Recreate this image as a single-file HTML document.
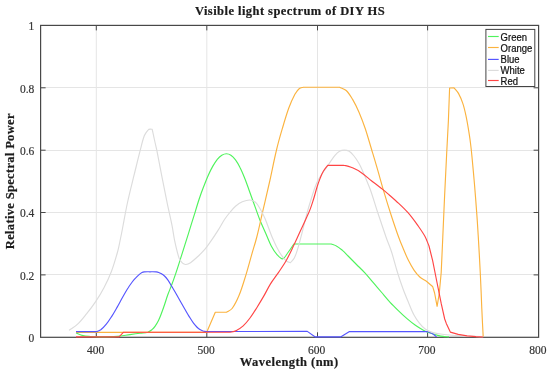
<!DOCTYPE html>
<html lang="en"><head><meta charset="utf-8"><title>Visible light spectrum of DIY HS</title>
<style>
html,body{margin:0;padding:0;background:#fff;}
body{width:550px;height:374px;overflow:hidden;}
svg{display:block;}
.t{font-family:"Liberation Serif",serif;font-size:11.5px;fill:#333333;stroke:#333333;stroke-width:0.18px;}
.b{font-family:"Liberation Serif",serif;font-weight:bold;font-size:12.5px;letter-spacing:0.45px;fill:#1c1c1c;stroke:#1c1c1c;stroke-width:0.2px;}
.l{font-family:"Liberation Sans",sans-serif;font-size:9.5px;fill:#111;stroke:#111;stroke-width:0.2px;}
.c{fill:none;stroke-width:1.15;stroke-linejoin:round;stroke-linecap:butt;}
</style></head><body>
<svg width="550" height="374" viewBox="0 0 550 374">
<rect width="550" height="374" fill="#fff"/>
<path d="M96.3 25.4V337.3M206.8 25.4V337.3M317.5 25.4V337.3M427.6 25.4V337.3M40.6 274.5H538.6M40.6 212.5H538.6M40.6 150.5H538.6M40.6 87.5H538.6" stroke="#e5e5e5" stroke-width="1" fill="none"/>
<path d="M96.3 337.3v-5M96.3 25.4v5M206.8 337.3v-5M206.8 25.4v5M317.5 337.3v-5M317.5 25.4v5M427.6 337.3v-5M427.6 25.4v5M40.6 274.9h5M538.6 274.9h-5M40.6 212.5h5M538.6 212.5h-5M40.6 150.2h5M538.6 150.2h-5M40.6 87.8h5M538.6 87.8h-5" stroke="#484848" stroke-width="1" fill="none"/>
<rect x="40.6" y="25.4" width="498.0" height="311.9" fill="none" stroke="#484848" stroke-width="1.2"/>
<path class="c" stroke="#4ff35c" d="M76.0 333.0C78.3 333.9 80.6 335.0 83.0 335.6C85.4 336.2 88.0 336.3 90.5 336.5C93.7 336.7 96.8 336.8 100.0 336.8C105.7 336.8 111.4 336.8 117.0 336.4C121.4 336.1 125.7 335.2 130.0 334.6C133.3 334.1 136.7 333.6 140.0 333.2C142.6 332.8 145.3 332.9 147.8 332.2C149.3 331.7 150.7 330.6 152.0 329.6C153.1 328.7 154.2 327.6 155.0 326.4C156.3 324.5 157.5 322.5 158.5 320.5C159.6 318.2 160.5 315.9 161.4 313.5C162.5 310.5 163.6 307.5 164.6 304.5C165.7 301.3 166.6 298.0 167.8 294.8C169.1 291.2 170.7 287.6 172.0 284.0C173.3 280.6 174.5 277.1 175.7 273.6C177.7 267.7 179.5 261.8 181.4 255.9C183.7 248.7 185.9 241.5 188.2 234.3C190.3 227.6 192.4 220.8 194.5 214.1C196.0 209.2 197.5 204.2 199.1 199.3C200.5 195.1 202.0 190.9 203.6 186.8C205.1 183.0 206.5 179.2 208.2 175.5C209.6 172.4 211.0 169.3 212.7 166.4C214.1 164.0 215.6 161.6 217.3 159.4C218.6 157.8 220.1 156.3 221.8 155.2C223.1 154.4 224.9 153.7 226.4 153.7C227.9 153.7 229.6 154.3 230.9 155.2C232.7 156.4 234.2 158.1 235.5 159.8C237.3 162.2 238.7 164.8 240.0 167.5C241.7 170.8 243.1 174.3 244.5 177.7C246.2 181.8 247.6 186.0 249.1 190.2C250.6 194.4 252.1 198.5 253.6 202.7C255.0 206.5 256.3 210.3 257.7 214.1C258.6 216.6 259.5 219.1 260.5 221.5C262.2 225.5 264.0 229.5 265.8 233.5C267.7 237.7 269.2 242.1 271.4 246.2C273.0 249.2 274.8 252.1 277.0 254.6C278.5 256.3 280.9 259.2 282.6 258.9C284.6 258.5 286.3 254.7 288.0 252.5C290.1 249.8 291.9 246.8 293.8 244.0L331.2 244.0C333.1 244.7 335.1 245.2 336.8 246.2C338.8 247.3 340.6 248.9 342.4 250.4C344.4 252.1 346.2 254.1 348.1 256.0C350.9 258.8 353.7 261.7 356.5 264.5C359.3 267.3 362.2 270.0 364.9 272.9C367.8 276.1 370.5 279.4 373.3 282.7C376.1 286.0 378.9 289.2 381.7 292.5C384.5 295.8 387.2 299.1 390.1 302.3C392.8 305.2 395.7 308.0 398.6 310.8C401.3 313.5 404.1 316.1 407.0 318.6C409.7 320.9 412.5 323.2 415.4 325.3C418.1 327.2 420.9 328.9 423.8 330.4C426.0 331.5 428.4 332.4 430.8 333.2C433.1 334.0 435.4 334.8 437.8 335.4C439.5 335.8 441.3 336.2 443.0 336.4C445.0 336.7 447.0 336.7 449.0 336.9"/>
<path class="c" stroke="#fbb33f" d="M76.0 332.4L206.6 332.4L215.3 312.2L226.5 312.2C228.4 311.0 230.8 310.2 232.1 308.5C235.0 304.6 237.2 299.9 239.1 295.3C241.9 288.5 243.9 281.3 246.1 274.3C248.1 267.8 249.8 261.2 251.7 254.6C253.4 248.7 255.3 242.9 256.8 237.0C258.9 228.8 260.6 220.6 262.5 212.4C265.0 201.6 267.6 190.8 270.0 180.0C272.2 170.0 274.1 159.9 276.5 150.0C278.2 142.8 280.2 135.8 282.3 128.7C284.3 121.9 286.3 115.0 288.7 108.3C290.5 103.5 292.5 98.8 294.9 94.3C296.1 92.2 297.6 90.0 299.4 88.5C300.4 87.7 301.9 87.6 303.2 87.2L339.6 87.2C341.8 88.3 344.5 88.9 346.2 90.5C348.8 92.9 350.7 96.3 352.6 99.4C355.0 103.5 357.1 107.8 359.0 112.2C361.3 117.6 363.4 123.1 365.3 128.7C367.6 135.6 369.5 142.6 371.6 149.5C373.7 156.5 375.8 163.4 377.8 170.4C379.9 177.6 381.8 184.9 384.0 192.1C386.4 200.2 388.9 208.2 391.5 216.2C393.8 223.2 396.1 230.1 398.6 237.0C399.9 240.6 401.3 244.1 402.8 247.6C404.6 251.9 406.3 256.2 408.4 260.3C410.1 263.7 411.9 267.0 414.0 270.1C415.7 272.6 417.6 275.0 419.8 277.0C421.9 278.9 424.7 280.0 427.0 281.7C429.0 283.2 430.8 285.0 432.7 286.7L434.6 293.0L437.1 306.3L439.2 293.9L441.2 272.5L442.8 237.0L444.6 195.9L446.6 155.0L448.4 120.5L449.6 88.0L454.0 87.8C455.5 89.7 457.4 91.5 458.6 93.6C460.3 96.7 461.7 100.0 462.8 103.4C464.2 107.5 465.1 111.7 466.0 115.9C466.9 120.0 467.6 124.2 468.3 128.4C469.1 133.3 469.9 138.3 470.5 143.2C471.1 147.8 471.6 152.4 472.0 157.0C472.9 166.2 473.7 175.3 474.5 184.5C475.3 194.4 476.1 204.2 476.8 214.1C477.4 221.7 477.8 229.4 478.3 237.0C479.0 249.1 479.7 261.1 480.3 273.2C480.9 285.0 481.3 296.7 481.8 308.5C482.2 317.9 482.7 327.4 483.2 336.8"/>
<path class="c" stroke="#5555ff" d="M76.0 331.6L97.1 331.6C98.3 331.0 99.7 330.6 100.8 329.8C102.8 328.2 104.7 326.2 106.3 324.2C108.4 321.7 110.1 318.9 111.9 316.1C113.8 313.2 115.5 310.1 117.2 307.1C119.0 303.9 120.8 300.5 122.6 297.3C124.4 294.1 126.2 290.9 128.2 287.8C129.4 285.8 130.8 283.9 132.2 282.0C133.2 280.7 134.3 279.4 135.5 278.2C136.7 276.9 138.0 275.6 139.4 274.4C140.2 273.7 141.1 273.1 142.0 272.6C142.7 272.2 143.4 272.0 144.2 271.9C146.1 271.7 148.1 271.8 150.0 271.8C152.1 271.8 154.2 271.7 156.3 271.9C157.2 272.0 158.0 272.2 158.8 272.5C159.6 272.8 160.3 273.2 161.0 273.6C162.2 274.3 163.5 275.1 164.5 276.0C165.7 277.1 166.8 278.4 167.8 279.8C169.3 282.0 170.6 284.5 172.0 286.8C173.5 289.3 175.0 291.8 176.4 294.3C177.8 296.8 179.2 299.3 180.6 301.8C182.0 304.3 183.5 306.8 184.9 309.3C186.3 311.7 187.7 314.2 189.2 316.6C190.6 318.8 192.0 321.1 193.5 323.2C194.5 324.6 195.6 325.8 196.8 327.0C197.8 328.0 198.8 328.9 199.9 329.6C200.8 330.2 201.9 330.7 203.0 331.0C204.0 331.3 205.0 331.3 206.0 331.5L307.3 331.4L314.9 336.8L341.0 336.8L349.5 331.6L427.8 331.6C429.5 332.4 431.4 333.0 433.0 334.0C434.3 334.8 435.4 335.9 436.6 336.8"/>
<path class="c" stroke="#dcdcdc" d="M69.0 330.4C71.9 328.3 75.0 326.5 77.6 324.1C80.9 321.0 83.7 317.3 86.5 313.8C89.6 310.0 92.6 306.2 95.3 302.1C98.5 297.4 101.5 292.5 104.1 287.4C106.9 282.2 109.4 276.7 111.5 271.2C113.8 265.1 115.6 258.8 117.4 252.5C118.5 248.7 119.2 244.8 120.0 241.0C120.9 236.7 121.8 232.3 122.6 228.0C124.2 219.7 125.6 211.3 127.4 203.0C129.3 194.0 131.6 185.1 133.8 176.2C136.0 167.4 138.1 158.5 140.4 149.7C141.6 145.0 142.6 140.2 144.3 135.8C145.2 133.6 146.7 131.5 148.2 129.8C148.7 129.2 149.7 129.2 150.5 129.1C151.1 129.0 151.6 129.2 152.2 129.3C153.0 132.9 153.7 136.4 154.5 140.0C155.2 143.4 156.1 146.8 156.8 150.2C158.5 158.9 160.1 167.5 161.8 176.2C163.6 185.5 165.5 194.8 167.4 204.1C168.9 211.2 170.6 218.3 172.0 225.4C173.0 230.2 173.5 235.2 174.5 240.0C175.8 246.1 177.1 252.4 179.1 258.2C179.7 260.1 181.1 261.9 182.5 263.2C183.4 264.0 184.8 264.6 185.9 264.5C187.4 264.4 189.1 263.6 190.5 262.7C192.9 261.1 195.1 259.0 197.3 257.0C199.7 254.8 202.0 252.6 204.1 250.2C206.6 247.3 208.7 244.2 210.9 241.1C213.3 237.8 215.5 234.4 217.7 230.9C220.1 227.2 222.1 223.2 224.5 219.5C226.1 217.1 227.9 214.8 229.8 212.5C231.6 210.3 233.4 208.0 235.5 206.2C237.5 204.5 239.9 202.8 242.3 201.8C244.8 200.8 247.7 199.8 250.2 200.0C252.2 200.1 254.4 201.3 255.9 202.7C257.8 204.5 259.1 207.1 260.5 209.5C262.2 212.5 263.8 215.6 265.1 218.8C267.8 225.3 269.9 232.1 272.7 238.6C274.7 243.3 276.9 248.0 279.5 252.3C281.4 255.4 283.8 258.5 286.4 261.0C287.4 262.0 289.1 262.1 290.5 262.7C291.8 261.1 293.4 259.8 294.3 258.0C295.8 255.2 296.7 252.0 297.7 248.9C299.0 244.8 300.0 240.6 301.1 236.4C302.7 230.3 304.1 224.2 305.7 218.2C307.1 212.9 308.5 207.5 310.2 202.3C312.4 195.4 314.1 188.3 317.2 181.9C320.0 176.0 324.3 170.8 328.0 165.4C330.3 161.9 332.6 158.4 335.2 155.2C336.4 153.7 337.9 152.2 339.5 151.3C340.9 150.5 342.8 150.1 344.4 150.1C346.0 150.1 347.8 150.5 349.2 151.3C351.0 152.4 352.6 154.3 354.0 156.0C355.8 158.2 357.4 160.7 358.9 163.2C360.2 165.4 361.2 167.7 362.2 170.0C364.8 176.1 367.5 182.1 369.8 188.3C372.6 195.8 374.8 203.6 377.3 211.2C380.2 219.8 383.0 228.4 386.0 237.0C387.7 242.0 389.9 246.8 391.5 251.8C393.6 258.3 395.2 265.0 397.2 271.5C398.9 277.1 400.8 282.8 402.8 288.3C404.5 293.0 406.5 297.7 408.4 302.3C410.2 306.6 411.8 310.9 414.0 315.0C415.6 318.0 417.5 320.8 419.6 323.4C421.2 325.5 423.1 327.5 425.2 329.0C427.3 330.5 429.8 331.6 432.2 332.4C434.9 333.3 437.8 333.6 440.6 334.0C444.3 334.5 448.1 335.0 451.9 335.2C462.3 335.9 472.8 336.3 483.2 336.8"/>
<path class="c" stroke="#ff4545" d="M76.0 336.8L119.0 336.8L123.6 332.2C158.4 332.2 193.2 332.3 228.0 332.2C229.2 332.2 230.4 332.2 231.5 332.0C233.2 331.7 234.9 331.3 236.4 330.5C238.8 329.2 241.2 327.7 243.2 325.9C245.7 323.6 247.9 320.8 250.0 318.0C252.5 314.7 254.6 311.2 256.8 307.7C259.1 304.0 261.4 300.2 263.6 296.4C266.0 292.3 268.0 287.9 270.5 283.9C272.9 280.0 275.8 276.4 278.4 272.6C281.1 268.5 284.0 264.5 286.4 260.2C288.9 255.8 291.0 251.2 293.2 246.6C295.5 241.7 297.7 236.7 300.0 231.8C302.3 226.9 304.6 222.0 306.8 217.0C308.0 214.4 309.2 211.8 310.2 209.1C311.5 205.8 312.5 202.4 313.6 199.0C314.9 194.9 315.9 190.6 317.2 186.5C318.0 183.8 319.0 181.2 320.0 178.6C321.0 176.2 321.9 173.7 323.2 171.5C324.5 169.3 326.2 167.4 327.7 165.4L343.5 165.4C344.2 165.5 344.8 165.5 345.5 165.6C346.5 165.8 347.5 166.1 348.5 166.4C350.1 166.9 351.6 167.4 353.1 168.1C355.5 169.2 357.9 170.3 360.0 171.8C364.0 174.5 367.6 177.7 371.4 180.7C375.2 183.6 379.0 186.4 382.7 189.4C385.0 191.2 387.1 193.1 389.3 195.0C392.5 197.8 395.6 200.5 398.7 203.4C401.9 206.4 405.1 209.4 408.0 212.7C411.4 216.6 414.4 220.7 417.4 224.9C420.0 228.6 422.7 232.3 424.9 236.3C426.6 239.4 427.6 242.8 429.0 246.0L432.7 260.9L437.0 282.5L441.3 303.9L444.7 319.0L446.3 323.4L450.3 332.1L458.2 334.4L467.1 335.9L475.9 336.6L483.2 337.0"/>
<text class="t" x="95.5" y="353.6" text-anchor="middle">400</text>
<text class="t" x="206.0" y="353.6" text-anchor="middle">500</text>
<text class="t" x="316.7" y="353.6" text-anchor="middle">600</text>
<text class="t" x="426.8" y="353.6" text-anchor="middle">700</text>
<text class="t" x="537.8" y="353.6" text-anchor="middle">800</text>
<text class="t" x="34.3" y="342.1" text-anchor="end">0</text>
<text class="t" x="34.3" y="279.7" text-anchor="end">0.2</text>
<text class="t" x="34.3" y="217.3" text-anchor="end">0.4</text>
<text class="t" x="34.3" y="154.9" text-anchor="end">0.6</text>
<text class="t" x="34.3" y="92.5" text-anchor="end">0.8</text>
<text class="t" x="34.3" y="30.1" text-anchor="end">1</text>
<text class="b" x="290" y="15.2" text-anchor="middle">Visible light spectrum of DIY HS</text>
<text class="b" x="289.2" y="366.4" text-anchor="middle">Wavelength (nm)</text>
<text class="b" style="letter-spacing:0.33px" transform="translate(13.5 181.2) rotate(-90)" text-anchor="middle">Relative Spectral Power</text>
<rect x="485.9" y="29.4" width="48.9" height="57.1" fill="#fff" stroke="#444" stroke-width="1"/>
<path d="M488 36.5h10.7" stroke="#4ff35c" stroke-width="1.15" fill="none"/>
<text class="l" transform="translate(500.6 40.5) scale(1 1.1)">Green</text>
<path d="M488 47.5h10.7" stroke="#fbb33f" stroke-width="1.15" fill="none"/>
<text class="l" transform="translate(500.6 51.5) scale(1 1.1)">Orange</text>
<path d="M488 59.4h10.7" stroke="#5555ff" stroke-width="1.15" fill="none"/>
<text class="l" transform="translate(500.6 63.4) scale(1 1.1)">Blue</text>
<path d="M488 70.4h10.7" stroke="#dcdcdc" stroke-width="1.15" fill="none"/>
<text class="l" transform="translate(500.6 74.4) scale(1 1.1)">White</text>
<path d="M488 80.5h10.7" stroke="#ff4545" stroke-width="1.15" fill="none"/>
<text class="l" transform="translate(500.6 84.5) scale(1 1.1)">Red</text>
</svg></body></html>
